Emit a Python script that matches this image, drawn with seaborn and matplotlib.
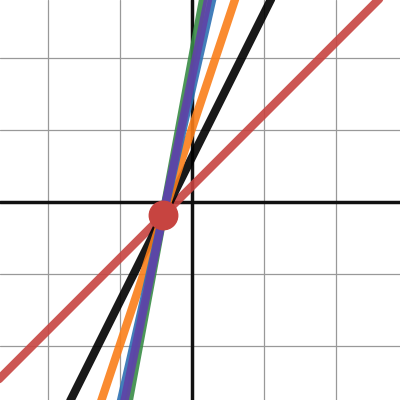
import numpy as np
import pandas as pd
import seaborn as sns
import matplotlib
matplotlib.use("Agg")
import matplotlib.pyplot as plt

px, py = -0.4, -0.18
slopes = [1, 2, 3, 5.4, 4.4, 4.8]
colors = ["#c74440", "#000000", "#fa7e19", "#388c46", "#2d70b3", "#6042a6"]
names = ["red", "black", "orange", "green", "blue", "purple"]

xs = np.array([-3.0, 3.0])
rows = []
for n, m in zip(names, slopes):
    for x in xs:
        rows.append({"x": x, "y": py + m * (x - px), "line": n})
df = pd.DataFrame(rows)

sns.set_style("white")
fig = plt.figure(figsize=(4, 4), dpi=100)
ax = fig.add_axes([0, 0, 1, 1])
for g in np.arange(-3, 4):
    ax.axvline(g, color="#999999", lw=0.9, zorder=0)
    ax.axhline(g, color="#999999", lw=0.9, zorder=0)
ax.axvline(0, color="#111111", lw=2.5, zorder=1)
ax.axhline(0, color="#111111", lw=2.5, zorder=1)
sns.lineplot(data=df, x="x", y="y", hue="line", palette=dict(zip(names, colors)),
             linewidth=6, alpha=0.9, legend=False, ax=ax, sort=False, zorder=2)
ax.scatter([px], [py], s=420, color="#c74440", zorder=3)
ax.set_xlim(-192/72, 208/72)
ax.set_ylim(-198/72, 202/72)
ax.set_xticks([]); ax.set_yticks([])
ax.set_xlabel(""); ax.set_ylabel("")
for s in ax.spines.values():
    s.set_visible(False)
fig.savefig("out.png", dpi=100)
